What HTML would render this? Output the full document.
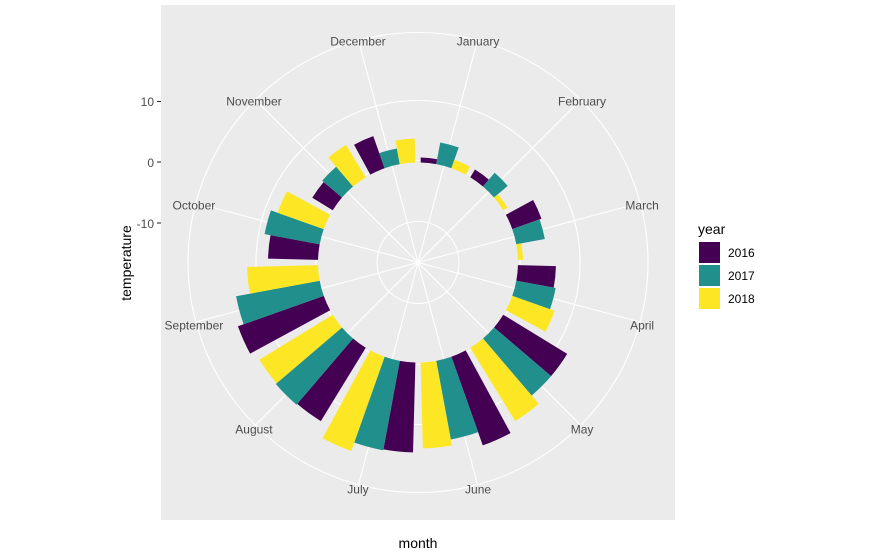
<!DOCTYPE html>
<html><head><meta charset="utf-8"><style>
html,body{margin:0;padding:0;background:#fff;}
svg{display:block;font-family:"Liberation Sans",Arial,sans-serif;}
</style></head><body>
<svg id="s" width="882" height="558" viewBox="0 0 882 558" xmlns="http://www.w3.org/2000/svg">
<rect x="161" y="5" width="514" height="515" fill="#EBEBEB"/>
<g id="grid" stroke="#fff" fill="none" stroke-width="1.1"></g>
<g id="bars"></g>
<g id="lab" font-size="12" fill="#4D4D4D" text-anchor="middle"></g>
<g font-size="12" fill="#4D4D4D" text-anchor="end">
<text x="154" y="106">10</text><text x="154" y="167">0</text><text x="154" y="228">-10</text>
</g>
<g stroke="#333" stroke-width="1.1"><line x1="157" y1="101.5" x2="161" y2="101.5"/><line x1="157" y1="162" x2="161" y2="162"/><line x1="157" y1="223" x2="161" y2="223"/></g>
<text x="131" y="263" font-size="14" fill="#000" text-anchor="middle" transform="rotate(-90 131 263)">temperature</text>
<text x="418" y="548" font-size="14" fill="#000" text-anchor="middle">month</text>
<text x="698" y="234" font-size="14" fill="#000">year</text>
<rect x="699" y="242" width="21" height="21" fill="#440154"/>
<rect x="699" y="265" width="21" height="21" fill="#21908C"/>
<rect x="699" y="288" width="21" height="21" fill="#FDE725"/>
<g font-size="12" fill="#000"><text x="728" y="257">2016</text><text x="728" y="280">2017</text><text x="728" y="303">2018</text></g>
</svg>
<script>
var cx=418,cy=262.5,NS="http://www.w3.org/2000/svg";
function el(p,t,a){var e=document.createElementNS(NS,t);for(var k in a)e.setAttribute(k,a[k]);p.appendChild(e);return e;}
function pt(r,a){var t=a*Math.PI/180;return [cx+r*Math.sin(t),cy-r*Math.cos(t)];}
var g=document.getElementById('grid');
[41,102,162,230].forEach(function(r){el(g,'circle',{cx:cx,cy:cy,r:r});});
for(var m=0;m<12;m++){var p=pt(230,m*30+15);el(g,'line',{x1:cx,y1:cy,x2:p[0],y2:p[1]});}
var months=["January","February","March","April","May","June","July","August","September","October","November","December"];
var L=document.getElementById('lab');
for(var m=0;m<12;m++){var p=pt(232,m*30+15);var t=el(L,'text',{x:p[0],y:p[1]+7});t.textContent=months[m];}
var R=[[105,122,109],[109,118,105],[131,129,105],[138,140,145],[175,175,186],[194,180,186],[190,191,200],[186,187,186],[191,185,171],[150,156,149],[124,126,138],[134,116,124]];
var C=["#440154","#21908C","#FDE725"];
var B=document.getElementById('bars'),ri=100;
for(var m=0;m<12;m++)for(var y=0;y<3;y++){
 var a0=m*30+1.5+y*9,a1=a0+9,ro=R[m][y];
 var p1=pt(ri,a0),p2=pt(ro,a0),p3=pt(ro,a1),p4=pt(ri,a1);
 var d="M"+p1+"L"+p2+"A"+ro+","+ro+" 0 0 1 "+p3+"L"+p4+"A"+ri+","+ri+" 0 0 0 "+p1+"Z";
 el(B,'path',{d:d,fill:C[y]});
}
</script>
</body></html>
